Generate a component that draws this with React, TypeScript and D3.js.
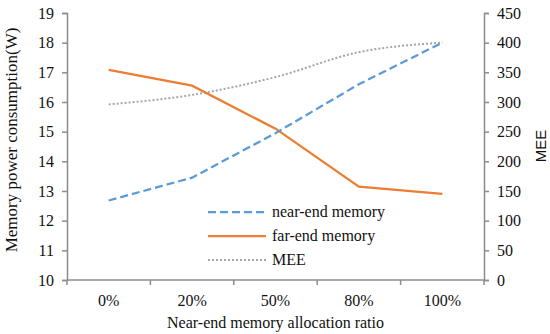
import React, { useEffect, useRef } from 'react';
import * as d3 from 'd3';

const categories = ['0%', '20%', '50%', '80%', '100%'];
const nearEnd = [12.68, 13.45, 14.95, 16.6, 18.0];
const farEnd = [17.08, 16.55, 15.1, 13.15, 12.9];
const mee = [296, 312, 342, 384, 400];
const leftTicks = [10, 11, 12, 13, 14, 15, 16, 17, 18, 19];
const rightTicks = [0, 50, 100, 150, 200, 250, 300, 350, 400, 450];

const App = () => {
    const svgRef = useRef<SVGSVGElement>(null);

    useEffect(() => {
        const width = 550;
        const height = 334;
        const margin = { top: 13, right: 66, bottom: 54, left: 67 };
        const axisColor = '#8c8c8c';
        const serif = '"Liberation Serif", "Times New Roman", serif';

        const svg = d3.select(svgRef.current)
            .attr('width', width)
            .attr('height', height);
        svg.selectAll('*').remove();

        const x = d3.scaleBand<string>()
            .domain(categories)
            .range([margin.left, width - margin.right]);
        const yL = d3.scaleLinear().domain([10, 19]).range([height - margin.bottom, margin.top]);
        const yR = d3.scaleLinear().domain([0, 450]).range([height - margin.bottom, margin.top]);
        const cx = (i: number) => (x(categories[i]) as number) + x.bandwidth() / 2;

        // left axis
        const left = svg.append('g')
            .attr('transform', `translate(${margin.left},0)`)
            .call(d3.axisLeft(yL).tickValues(leftTicks).tickSize(5).tickPadding(8).tickFormat(d3.format('d')));
        left.select('.domain').attr('stroke', axisColor).attr('stroke-width', 1.5);
        left.selectAll('.tick line').attr('stroke', axisColor).attr('stroke-width', 1.5);
        left.selectAll('.tick text').attr('font-family', serif).attr('font-size', 16).attr('fill', '#111');

        // right axis
        const right = svg.append('g')
            .attr('transform', `translate(${width - margin.right},0)`)
            .call(d3.axisRight(yR).tickValues(rightTicks).tickSize(5).tickPadding(8));
        right.select('.domain').attr('stroke', axisColor).attr('stroke-width', 1.5);
        right.selectAll('.tick line').attr('stroke', axisColor).attr('stroke-width', 1.5);
        right.selectAll('.tick text').attr('font-family', serif).attr('font-size', 16).attr('fill', '#111');

        // bottom axis
        const bottom = svg.append('g')
            .attr('transform', `translate(0,${height - margin.bottom})`);
        bottom.append('line')
            .attr('x1', margin.left).attr('x2', width - margin.right)
            .attr('stroke', axisColor).attr('stroke-width', 1.5);
        const boundaries = categories.map(c => x(c) as number).concat([width - margin.right]);
        bottom.selectAll('line.tk').data(boundaries).enter().append('line')
            .attr('class', 'tk')
            .attr('x1', d => d).attr('x2', d => d).attr('y1', 0).attr('y2', 5)
            .attr('stroke', axisColor).attr('stroke-width', 1.5);
        bottom.selectAll('text').data(categories).enter().append('text')
            .attr('x', (_, i) => cx(i)).attr('y', 26)
            .attr('text-anchor', 'middle')
            .attr('font-family', serif).attr('font-size', 16).attr('fill', '#111')
            .text(d => d);

        // axis titles
        svg.append('text')
            .attr('transform', `translate(${(margin.left + width - margin.right) / 2},${height - 6}) `)
            .attr('text-anchor', 'middle')
            .attr('font-family', serif).attr('font-size', 16).attr('fill', '#111')
            .text('Near-end memory allocation ratio');
        svg.append('text')
            .attr('transform', `translate(17,140) rotate(-90)`)
            .attr('text-anchor', 'middle')
            .attr('font-family', serif).attr('font-size', 17).attr('fill', '#111')
            .text('Memory power consumption(W)');
        svg.append('text')
            .attr('transform', `translate(546,146) rotate(-90)`)
            .attr('text-anchor', 'middle')
            .attr('font-family', '"Liberation Sans", Arial, sans-serif').attr('font-size', 15).attr('fill', '#111')
            .text('MEE');

        // lines
        const lineL = d3.line<number>().x((_, i) => cx(i)).y(d => yL(d));
        const lineR = d3.line<number>().x((_, i) => cx(i)).y(d => yR(d)).curve(d3.curveMonotoneX);

        svg.append('path').datum(mee)
            .attr('fill', 'none').attr('stroke', '#a5a5a5').attr('stroke-width', 2)
            .attr('stroke-dasharray', '2,2').attr('d', lineR);
        svg.append('path').datum(farEnd)
            .attr('fill', 'none').attr('stroke', '#ed7d31').attr('stroke-width', 2.25)
            .attr('d', lineL);
        svg.append('path').datum(nearEnd)
            .attr('fill', 'none').attr('stroke', '#5b9bd5').attr('stroke-width', 2.25)
            .attr('stroke-dasharray', '8,4').attr('d', lineL);

        // legend
        const legendItems = [
            { label: 'near-end memory', color: '#5b9bd5', dash: '8,4', w: 2.25 },
            { label: 'far-end memory', color: '#ed7d31', dash: null, w: 2.25 },
            { label: 'MEE', color: '#a5a5a5', dash: '2,2', w: 2 },
        ];
        const legend = svg.append('g').attr('transform', 'translate(208,212)');
        legendItems.forEach((item, i) => {
            const g = legend.append('g').attr('transform', `translate(0,${i * 24})`);
            g.append('line').attr('x1', 0).attr('x2', 58)
                .attr('stroke', item.color).attr('stroke-width', item.w)
                .attr('stroke-dasharray', item.dash);
            g.append('text').attr('x', 64).attr('y', 5)
                .attr('font-family', serif).attr('font-size', 16).attr('fill', '#111')
                .text(item.label);
        });
    }, []);

    return <svg ref={svgRef} style={{ position: 'absolute', left: 0, top: 0 }}></svg>;
};

export default App;
